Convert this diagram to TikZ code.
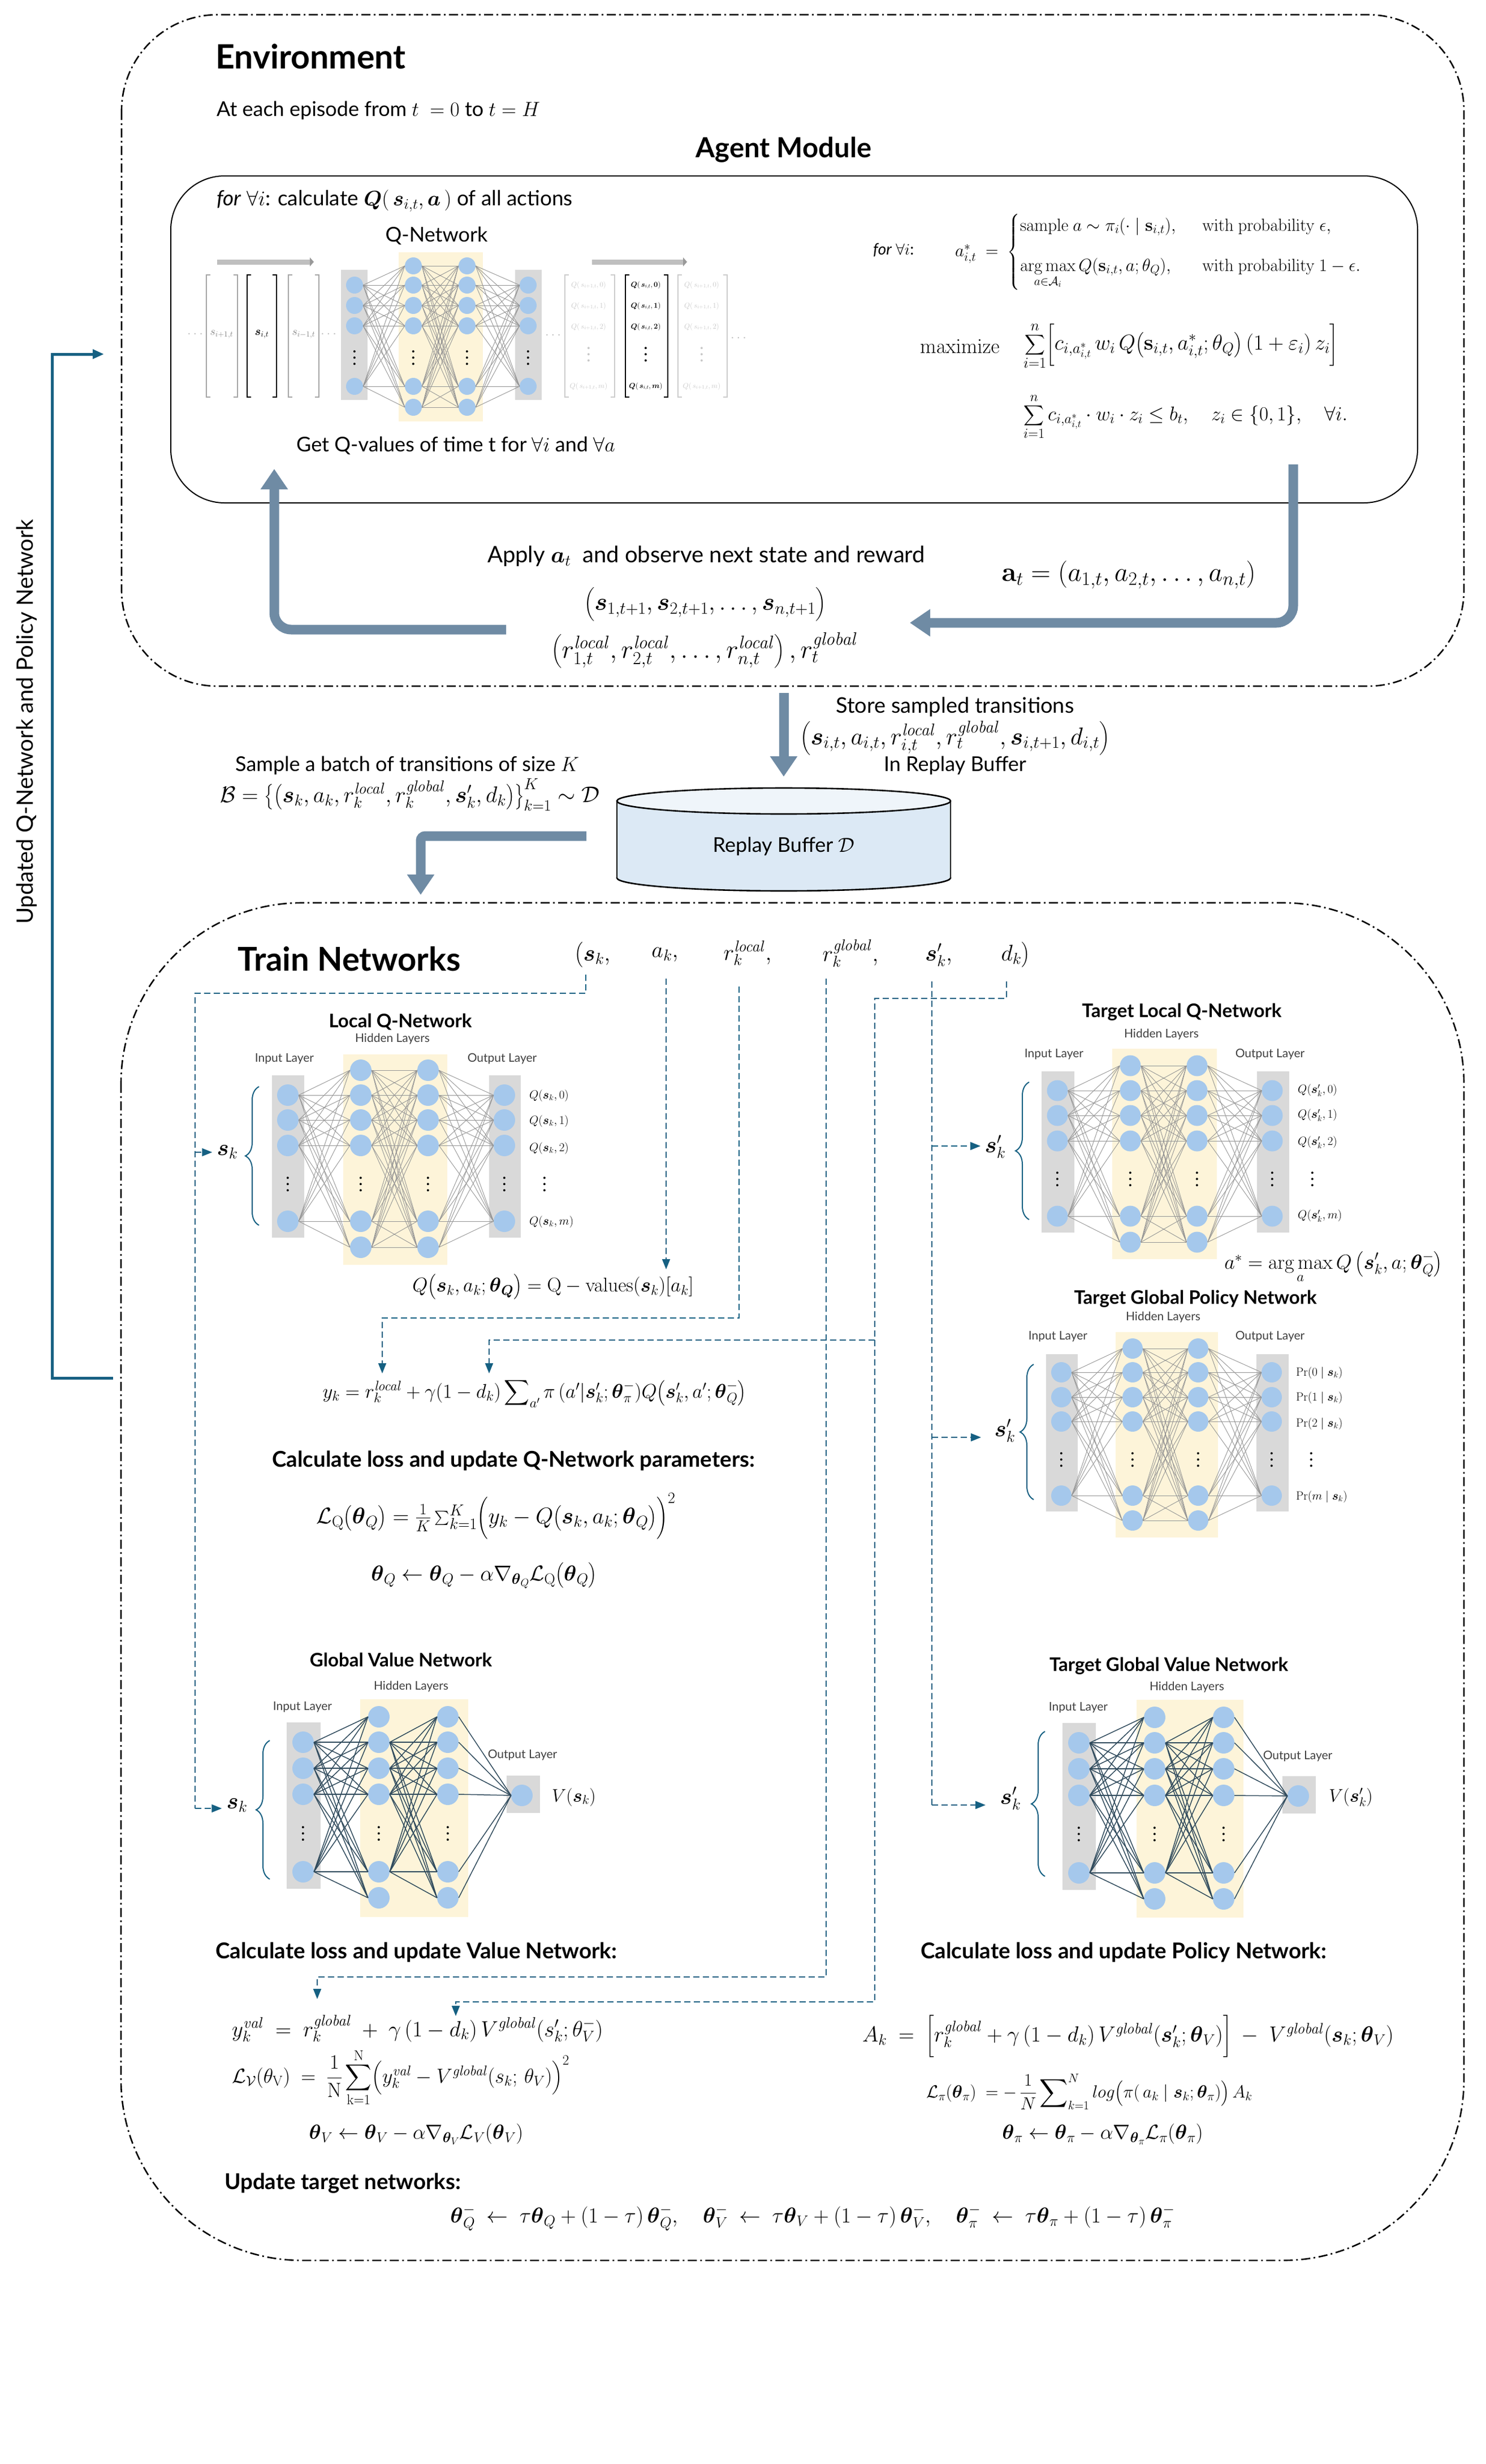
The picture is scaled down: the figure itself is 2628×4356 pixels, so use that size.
\RequirePackage{fix-cm}
\documentclass[tikz,border=0pt]{standalone}
\usepackage{amsmath}
\usepackage{exscale}
\usepackage[no-math]{fontspec}
\setmainfont{Lato}
\usetikzlibrary{arrows.meta,decorations.pathreplacing}

\definecolor{nodeblue}{HTML}{A5C8EC}
\definecolor{hiddenyellow}{HTML}{FDF4D9}
\definecolor{layergray}{HTML}{D9D9D9}
\definecolor{flowblue}{HTML}{6F8BA4}
\definecolor{feedblue}{HTML}{156082}
\definecolor{wiredark}{HTML}{2F4A5C}
\definecolor{bufferblue}{HTML}{DCE9F5}

\newcommand{\fsz}[1]{\fontsize{#1}{#1}\selectfont}
\newcommand{\bv}[1]{\boldsymbol{#1}}
\newcommand{\mloc}{\mathit{local}}
\newcommand{\mglob}{\mathit{global}}
\newcommand{\threedots}{\vbox{\baselineskip=11pt\lineskiplimit=0pt\hbox{.}\hbox{.}\hbox{.}}}
\newcommand{\lsum}[1]{\mathop{\vcenter{\hbox{\scalebox{#1}{$\displaystyle\sum$}}}}}

% name, x of input/hidden/hidden, y rows and dots, diameter, boxes, wire style, rows wired between hidden layers
\newcommand{\nnet}[7]{
\foreach \ci/\ca/\cb in {#2}{
\foreach \ya/\yb/\yc/\yd/\ye/\yf/\yv in {#3}{
\foreach \bxa/\bxb/\bya/\byb/\gxa/\gxb/\gya/\gyb in {#5}{
\fill [hiddenyellow] (\bxa,\bya) rectangle (\bxb,\byb);
\fill [layergray] (\gxa,\gya) rectangle (\gxb,\gyb);
\foreach \p/\q in {1/\ya,2/\yb,3/\yc,4/\yd,5/\ye,6/\yf}{
\node [neuron,minimum size=#4] (#1-a-\p) at (\ca,\q) {};
\node [neuron,minimum size=#4] (#1-b-\p) at (\cb,\q) {};
}
\foreach \p/\q in {2/\yb,3/\yc,4/\yd,5/\ye}
\node [neuron,minimum size=#4] (#1-i-\p) at (\ci,\q) {};
\foreach \p in {2,...,5}
\foreach \q in {1,...,6}
\draw [#6] (#1-i-\p.east) -- (#1-a-\q.west);
\foreach \p in {#7}
\foreach \q in {1,...,6}
\draw [#6] (#1-a-\p.east) -- (#1-b-\q.west);
\node [vdot] (#1-di) at (\ci,\yv) {\threedots};
\node [vdot] (#1-da) at (\ca,\yv) {\threedots};
\node [vdot] (#1-db) at (\cb,\yv) {\threedots};
}}}
}
% name, x, y rows and dots, diameter, gray box
\newcommand{\qout}[5]{
\foreach \gxa/\gxb/\gya/\gyb in {#5}
\fill [layergray] (\gxa,\gya) rectangle (\gxb,\gyb);
\foreach \yb/\yc/\yd/\ye/\yv in {#3}{
\foreach \p/\q in {2/\yb,3/\yc,4/\yd,5/\ye}
\node [neuron,minimum size=#4] (#1-o-\p) at (#2,\q) {};
\node [vdot] (#1-do) at (#2,\yv) {\threedots};
}
\foreach \p in {1,...,6}
\foreach \q in {2,...,5}
\draw [wire] (#1-b-\p.east) -- (#1-o-\q.west);
}

\begin{document}
\begin{tikzpicture}[x=1pt,y=-1pt]
\tikzstyle{every node}+=[inner sep=0pt]
\tikzstyle{neuron}=[circle,fill=nodeblue]
\tikzstyle{wire}=[draw=black!42,line width=0.9pt]
\tikzstyle{darkwire}=[draw=wiredark,line width=1.5pt]
\tikzstyle{vdot}=[font=\fsz{26}\bfseries]
\tikzstyle{framebox}=[draw=black,line width=2.6pt,dash pattern=on 16pt off 6pt on 3pt off 6pt]
\tikzstyle{bigflow}=[draw=flowblue,line width=17pt,rounded corners=30pt,-{Triangle[length=36pt,width=46pt]}]
\tikzstyle{feed}=[draw=feedblue,line width=1.8pt,dash pattern=on 11pt off 6pt]
\tikzstyle{feedtip}=[draw=feedblue,line width=1.8pt,dash pattern=on 11pt off 6pt,-{Triangle[length=18pt,width=14pt]}]
\tikzstyle{curly}=[draw=feedblue,line width=2pt,decorate,decoration={brace,amplitude=24pt}]
\tikzstyle{body}=[font=\fsz{36}]
\tikzstyle{head}=[font=\fsz{38.5}\bfseries]
\tikzstyle{nettitle}=[font=\fsz{33}\bfseries]
\tikzstyle{layername}=[font=\fsz{21},text=black!75]
\tikzstyle{qval}=[font=\fsz{21},anchor=west]
\tikzstyle{smallq}=[font=\fsz{13}]
\useasboundingbox (0,0) rectangle (2628,4356);

\draw [framebox,rounded corners=170pt] (215,26) rectangle (2589,1213);
\draw [black,line width=2pt,rounded corners=95pt] (302,311) rectangle (2507,889);
\draw [framebox,rounded corners=320pt] (214,1596) rectangle (2589,3996);

\node [font=\fsz{59}\bfseries,anchor=west] (envtitle) at (381,100) {Environment};
\node [body,anchor=west] (episode) at (383,195) {At each episode from $t\ =0$ to $t=H$};
\node [font=\fsz{49}\bfseries] (agenttitle) at (1386,265) {Agent Module};
\node [font=\fsz{37},anchor=west] (forall) at (383,355) {\textit{for} $\forall i$: calculate $\bv{Q}(\,\bv{s}_{i,t},\bv{a}\,)$ of all actions};
\node [body] (qnettitle) at (772,417) {Q-Network};
\node [body] (getq) at (806,788) {Get Q-values of time t for $\forall i$ and $\forall a$};

\nnet{env}{627/731/826}{470/504/540/576/683/720/633}{30pt}{705/854/446/745/603/650/477/707}{wire}{1,...,6}
\qout{env}{934}{504/540/576/683/633}{30pt}{911/958/477/707}

\shade [left color=black!25,middle color=black,right color=black!25] (384,459) rectangle (548,467);
\fill [black!40] (548,455) -- (555,463) -- (548,471) -- cycle;
\shade [left color=black!25,middle color=black,right color=black!25] (1047,459) rectangle (1208,467);
\fill [black!40] (1208,455) -- (1215,463) -- (1208,471) -- cycle;

\foreach \xa/\xb/\shadecol/\lw in {365/420/black!35/1.5,437/489/black/2.5,510/564/black!35/1.5,999/1087/black!20/1.5,1106/1181/black/2.5,1199/1286/black!20/1.5}{
\draw [\shadecol,line width=\lw pt] (\xa+7,486) -- (\xa,486) -- (\xa,702) -- (\xa+7,702);
\draw [\shadecol,line width=\lw pt] (\xb-7,486) -- (\xb,486) -- (\xb,702) -- (\xb-7,702);
}
\node [font=\fsz{20},text=black!50] (vecl) at (392,591) {$s_{i+1,t}$};
\node [font=\fsz{20}] (vecm) at (463,591) {$\bv{s}_{i,t}$};
\node [font=\fsz{20},text=black!50] (vecr) at (537,591) {$s_{i-1,t}$};
\node [font=\fsz{24},text=black!25] (dotsa) at (347,591) {$\cdots$};
\node [font=\fsz{24},text=black!25] (dotsb) at (583,591) {$\cdots$};
\node [font=\fsz{24},text=black!25] (dotsc) at (980,593) {$\cdots$};
\node [font=\fsz{24},text=black!25] (dotsd) at (1308,598) {$\cdots$};
\foreach \n/\y/\e in {a/504/0,b/541/1,c/578/2,d/683/m}{
\node [smallq,text=black!22] (ql\n) at (1041,\y) {$Q(\,s_{i+1,t},\e)$};
\node [smallq] (qm\n) at (1142,\y) {$\bv{Q}(\,\bv{s}_{i,t},\bv{\e})$};
\node [smallq,text=black!22] (qr\n) at (1241,\y) {$Q(\,s_{i+1,t},\e)$};
}
\node [vdot,text=black!22] (qld) at (1041,627) {\threedots};
\node [vdot] (qmd) at (1142,627) {\threedots};
\node [vdot,text=black!22] (qrd) at (1241,627) {\threedots};

\node [anchor=west,font=\fsz{28}] (foralli) at (1544,442) {\textit{for} $\forall i$:};
\node [font=\fsz{31},anchor=west] (astar) at (1689,446) {$a^*_{i,t}\ =\ \begin{cases}\mathrm{sample}\ a\sim\pi_i(\cdot\mid\mathbf{s}_{i,t}), & \ \ \mathrm{with\ probability}\ \epsilon,\\[34pt] \operatorname*{arg\,max}\limits_{a\in\mathcal{A}_i} Q(\mathbf{s}_{i,t},a;\theta_Q), & \ \ \mathrm{with\ probability}\ 1-\epsilon.\end{cases}$};
\node [font=\fsz{37},anchor=west] (maxi) at (1627,612) {$\mathrm{maximize}$};
\node [font=\fsz{38},anchor=west] (objective) at (1810,612) {$\displaystyle\sum_{i=1}^n\Bigl[c_{i,a^*_{i,t}}\,w_i\,Q\bigl(\mathbf{s}_{i,t},a^*_{i,t};\theta_Q\bigr)\,(1+\varepsilon_i)\,z_i\Bigr]$};
\node [font=\fsz{35},anchor=west] (limit) at (1810,737) {$\displaystyle\sum_{i=1}^n c_{i,a^*_{i,t}}\cdot w_i\cdot z_i\le b_t,\quad z_i\in\{0,1\},\quad\forall i.$};

\node [font=\fsz{40}] (apply) at (1249,983) {Apply $\bv{a}_t$\ \ and observe next state and reward};
\node [font=\fsz{48}] (atvec) at (1996,1016) {$\mathbf{a}_t=(a_{1,t},a_{2,t},\dots,a_{n,t})$};
\node [font=\fsz{43}] (nextstate) at (1247,1068) {$\bigl(\bv{s}_{1,t+1},\bv{s}_{2,t+1},\dots,\bv{s}_{n,t+1}\bigr)$};
\node [font=\fsz{46}] (rewards) at (1246,1150) {$\bigl(r_{1,t}^{\mloc},r_{2,t}^{\mloc},\dots,r_{n,t}^{\mloc}\bigr)\,,r_t^{\mglob}$};

\coordinate (actfrom) at (2287,821);
\coordinate (actcorner) at (2287,1101);
\coordinate (actto) at (1609,1101);
\draw [bigflow] (actfrom) -- (actcorner) -- (actto);
\coordinate (obsfrom) at (895,1113);
\coordinate (obscorner) at (485,1113);
\coordinate (obsto) at (485,829);
\draw [bigflow] (obsfrom) -- (obscorner) -- (obsto);

\node [font=\fsz{38}] (store) at (1689,1250) {Store sampled transitions};
\node [font=\fsz{43}] (storemath) at (1689,1305) {$\bigl(\bv{s}_{i,t},a_{i,t},r_{i,t}^{\mloc},r_t^{\mglob},\bv{s}_{i,t+1},d_{i,t}\bigr)$};
\node [body] (inbuffer) at (1689,1353) {In Replay Buffer};
\node [body,anchor=west] (sampletxt) at (416,1353) {Sample a batch of transitions of size $K$};
\node [font=\fsz{40}] (batch) at (725,1405) {$\mathcal{B}=\bigl\{\bigl(\bv{s}_k,a_k,r_k^{\mloc},r_k^{\mglob},\bv{s}'_k,d_k\bigr)\bigr\}_{k=1}^K\sim\mathcal{D}$};

\draw [black,line width=2.6pt,fill=bufferblue] (1386,1552) ellipse [x radius=295pt,y radius=23pt];
\fill [bufferblue] (1091,1416) rectangle (1681,1552);
\draw [black,line width=2.6pt] (1091,1416) -- (1091,1552);
\draw [black,line width=2.6pt] (1681,1416) -- (1681,1552);
\draw [black,line width=2.6pt,fill=bufferblue!45] (1386,1416) ellipse [x radius=295pt,y radius=23pt];
\node [body] (buffer) at (1386,1496) {Replay Buffer $\mathcal{D}$};

\coordinate (storefrom) at (1386,1225);
\coordinate (storeto) at (1386,1373);
\draw [bigflow] (storefrom) -- (storeto);
\coordinate (samplefrom) at (1037,1478);
\coordinate (samplecorner) at (744,1478);
\coordinate (sampleto) at (744,1582);
\draw [bigflow,rounded corners=8pt] (samplefrom) -- (samplecorner) -- (sampleto);

\node [font=\fsz{58}\bfseries,anchor=west] (traintitle) at (420,1695) {Train Networks};
\node [font=\fsz{40}] (tks) at (1048,1688) {$\bigl(\bv{s}_k,$};
\node [font=\fsz{40}] (tka) at (1176,1688) {$a_k,$};
\node [font=\fsz{40}] (tkl) at (1322,1685) {$r_k^{\mloc},$};
\node [font=\fsz{40}] (tkg) at (1504,1685) {$r_k^{\mglob},$};
\node [font=\fsz{40}] (tkn) at (1660,1688) {$\bv{s}'_k,$};
\node [font=\fsz{40}] (tkd) at (1796,1688) {$d_k\bigr)$};

\node [nettitle] (lqtitle) at (708,1807) {Local Q-Network};
\node [layername] (lqhid) at (694,1837) {Hidden Layers};
\node [layername] (lqin) at (503,1872) {Input Layer};
\node [layername] (lqoutl) at (888,1872) {Output Layer};
\nnet{lq}{509/638/757}{1892/1936/1980/2025/2159/2205/2094}{38pt}{607/791/1864/2236/481/538/1901/2188}{wire}{1,...,6}
\qout{lq}{892}{1936/1980/2025/2159/2094}{38pt}{865/921/1901/2188}
\node [qval] (lq0) at (936,1937) {$Q(\bv{s}_k,0)$};
\node [qval] (lq1) at (936,1982) {$Q(\bv{s}_k,1)$};
\node [qval] (lq2) at (936,2030) {$Q(\bv{s}_k,2)$};
\node [vdot] (lqv) at (963,2094) {\threedots};
\node [qval] (lqm) at (936,2160) {$Q(\bv{s}_k,m)$};
\coordinate (lqbb) at (458,2166);
\coordinate (lqbt) at (458,1921);
\draw [curly] (lqbb) -- (lqbt);
\node [font=\fsz{40}] (lqsk) at (402,2037) {$\bv{s}_k$};

\node [nettitle] (tqtitle) at (2090,1789) {Target Local Q-Network};
\node [layername] (tqhid) at (2054,1829) {Hidden Layers};
\node [layername] (tqin) at (1864,1864) {Input Layer};
\node [layername] (tqoutl) at (2246,1864) {Output Layer};
\nnet{tq}{1870/1999/2117}{1884/1928/1972/2017/2150/2196/2085}{37pt}{1967/2152/1854/2226/1842/1900/1894/2179}{wire}{1,...,6}
\qout{tq}{2250}{1928/1972/2017/2150/2085}{37pt}{2223/2280/1894/2179}
\node [qval] (tq0) at (2295,1928) {$Q(\bv{s}'_k,0)$};
\node [qval] (tq1) at (2295,1972) {$Q(\bv{s}'_k,1)$};
\node [qval] (tq2) at (2295,2020) {$Q(\bv{s}'_k,2)$};
\node [vdot] (tqv) at (2321,2085) {\threedots};
\node [qval] (tqm) at (2295,2150) {$Q(\bv{s}'_k,m)$};
\coordinate (tqbb) at (1820,2156);
\coordinate (tqbt) at (1820,1913);
\draw [curly] (tqbb) -- (tqbt);
\node [font=\fsz{40}] (tqsk) at (1760,2027) {$\bv{s}'_k$};
\node [font=\fsz{36}] (astarq) at (2358,2240) {$a^*=\displaystyle\operatorname*{arg\,max}_a Q\,\bigl(\bv{s}'_k,a;\bv{\theta}_Q^-\bigr)$};

\node [nettitle] (tptitle) at (2114,2296) {Target Global Policy Network};
\node [layername] (tphid) at (2057,2329) {Hidden Layers};
\node [layername] (tpin) at (1871,2363) {Input Layer};
\node [layername] (tpoutl) at (2246,2363) {Output Layer};
\nnet{tp}{1877/2003/2119}{2384/2426/2470/2513/2644/2688/2581}{36pt}{1973/2154/2355/2718/1850/1906/2394/2672}{wire}{1,...,6}
\qout{tp}{2249}{2426/2470/2513/2644/2581}{36pt}{2222/2279/2394/2672}
\node [qval] (tp0) at (2292,2427) {$\mathrm{Pr}(0\mid\bv{s}_k)$};
\node [qval] (tp1) at (2292,2471) {$\mathrm{Pr}(1\mid\bv{s}_k)$};
\node [qval] (tp2) at (2292,2517) {$\mathrm{Pr}(2\mid\bv{s}_k)$};
\node [vdot] (tpv) at (2319,2581) {\threedots};
\node [qval] (tpm) at (2292,2646) {$\mathrm{Pr}(m\mid\bv{s}_k)$};
\coordinate (tpbb) at (1828,2651);
\coordinate (tpbt) at (1828,2412);
\draw [curly] (tpbb) -- (tpbt);
\node [font=\fsz{40}] (tpsk) at (1777,2529) {$\bv{s}'_k$};

\node [font=\fsz{35}] (qsa) at (978,2275) {$Q\bigl(\bv{s}_k,a_k;\bv{\theta}_{\bv{Q}}\bigr)=\mathrm{Q}-\mathrm{values}(\bv{s}_k)[a_k]$};
\node [font=\fsz{35}] (ytarget) at (945,2463) {$y_k=r_k^{\mloc}+\gamma(1-d_k)\lsum{1.25}\nolimits_{a'}\pi\,(a'|\bv{s}'_k;\bv{\theta}_\pi^-)Q\bigl(\bv{s}'_k,a';\bv{\theta}_Q^-\bigr)$};
\node [head] (qlosshead) at (908,2582) {Calculate loss and update Q-Network parameters:};
\node [font=\fsz{40}] (qloss) at (877,2680) {$\mathcal{L}_{\mathrm{Q}}\bigl(\bv{\theta}_Q\bigr)=\frac{1}{K}\sum_{k=1}^K\Bigl(y_k-Q\bigl(\bv{s}_k,a_k;\bv{\theta}_Q\bigr)\Bigr)^2$};
\node [font=\fsz{38}] (qupd) at (856,2785) {$\bv{\theta}_Q\leftarrow\bv{\theta}_Q-\alpha\nabla_{\bv{\theta}_Q}\mathcal{L}_{\mathrm{Q}}\bigl(\bv{\theta}_Q\bigr)$};

\node [nettitle] (gvtitle) at (709,2934) {Global Value Network};
\node [layername] (gvhid) at (727,2982) {Hidden Layers};
\node [layername] (gvin) at (535,3018) {Input Layer};
\node [layername] (gvoutl) at (924,3103) {Output Layer};
\nnet{gv}{536/670/792}{3035/3080/3126/3172/3309/3355/3242}{38pt}{637/828/3004/3389/507/567/3045/3339}{darkwire}{2,...,5}
\fill [layergray] (896,3139) rectangle (955,3205);
\node [neuron,minimum size=38pt] (gv-o) at (923,3174) {};
\foreach \p in {1,...,6}
\draw [darkwire] (gv-b-\p.east) -- (gv-o.west);
\node [font=\fsz{32}] (gvv) at (1015,3177) {$V(\bv{s}_k)$};
\coordinate (gvbb) at (477,3322);
\coordinate (gvbt) at (477,3077);
\draw [curly] (gvbb) -- (gvbt);
\node [font=\fsz{40}] (gvsk) at (419,3192) {$\bv{s}_k$};

\node [nettitle] (tvtitle) at (2067,2945) {Target Global Value Network};
\node [layername] (tvhid) at (2099,2983) {Hidden Layers};
\node [layername] (tvin) at (1907,3019) {Input Layer};
\node [layername] (tvoutl) at (2295,3105) {Output Layer};
\nnet{tv}{1908/2042/2164}{3036/3081/3127/3174/3311/3357/3243}{38pt}{2010/2199/3005/3390/1879/1938/3046/3341}{darkwire}{2,...,5}
\fill [layergray] (2268,3140) rectangle (2327,3206);
\node [neuron,minimum size=38pt] (tv-o) at (2296,3175) {};
\foreach \p in {1,...,6}
\draw [darkwire] (tv-b-\p.east) -- (tv-o.west);
\node [font=\fsz{32}] (tvv) at (2389,3177) {$V(\bv{s}'_k)$};
\coordinate (tvbb) at (1848,3317);
\coordinate (tvbt) at (1848,3061);
\draw [curly] (tvbb) -- (tvbt);
\node [font=\fsz{40}] (tvsk) at (1787,3179) {$\bv{s}'_k$};

\node [head,anchor=west] (vlosshead) at (381,3451) {Calculate loss and update Value Network:};
\node [head,anchor=west] (plosshead) at (1628,3451) {Calculate loss and update Policy Network:};
\node [font=\fsz{39},anchor=west] (yval) at (410,3586) {$y_k^{\mathit{val}}\ =\ r_k^{\mglob}\ +\ \gamma\,(1-d_k)\,V^{\mglob}(s'_k;\theta_V^-)$};
\node [font=\fsz{36},anchor=west] (vloss) at (410,3673) {$\mathcal{L}_{\mathcal{V}}(\theta_{\mathrm{V}})\ =\ \dfrac{1}{\mathrm{N}}\lsum{1.3}\limits_{\mathrm{k}=1}^{\mathrm{N}}\Bigl(y_k^{\mathit{val}}-V^{\mglob}(s_k;\,\theta_V)\Bigr)^2$};
\node [font=\fsz{36}] (vupd) at (736,3773) {$\bv{\theta}_V\leftarrow\bv{\theta}_V-\alpha\nabla_{\bv{\theta}_V}\mathcal{L}_V(\bv{\theta}_V)$};
\node [font=\fsz{38.5},anchor=west] (adv) at (1525,3600) {$A_k\ =\ \Bigl[r_k^{\mglob}+\gamma\,(1-d_k)\,V^{\mglob}(\bv{s}'_k;\bv{\theta}_V)\Bigr]\ -\ V^{\mglob}(\bv{s}_k;\bv{\theta}_V)$};
\node [font=\fsz{31},anchor=west] (ploss) at (1638,3698) {$\mathcal{L}_\pi(\bv{\theta}_\pi)\ =-\,\dfrac{1}{N}\lsum{1.4}\nolimits_{k=1}^N log\bigl(\pi(\,a_k\mid\bv{s}_k;\bv{\theta}_\pi)\bigr)\,A_k$};
\node [font=\fsz{36}] (pupd) at (1950,3773) {$\bv{\theta}_\pi\leftarrow\bv{\theta}_\pi-\alpha\nabla_{\bv{\theta}_\pi}\mathcal{L}_\pi(\bv{\theta}_\pi)$};
\node [head,anchor=west] (updhead) at (397,3860) {Update target networks:};
\node [font=\fsz{38}] (softupd) at (1437,3921) {$\bv{\theta}_Q^-\ \leftarrow\ \tau\bv{\theta}_Q+(1-\tau)\,\bv{\theta}_Q^-,\quad\bv{\theta}_V^-\ \leftarrow\ \tau\bv{\theta}_V+(1-\tau)\,\bv{\theta}_V^-,\quad\bv{\theta}_\pi^-\ \leftarrow\ \tau\bv{\theta}_\pi+(1-\tau)\,\bv{\theta}_\pi^-$};

\coordinate (sktap) at (1036,1723);
\coordinate (skcorner) at (345,1756);
\coordinate (skdown) at (345,3197);
\draw [feed] (sktap) |- (skcorner) -- (skdown);
\coordinate (skbranch) at (345,2037);
\draw [feedtip,shorten >=8pt] (skbranch) -- (lqsk.west);
\draw [feedtip,shorten >=8pt] (skdown) -- (gvsk.west |- skdown);

\coordinate (aktap) at (1178,1730);
\coordinate (akto) at (1178,2244);
\draw [feedtip] (aktap) -- (akto);

\coordinate (rltap) at (1307,1744);
\coordinate (rlturn) at (1307,2330);
\coordinate (rlto) at (676,2428);
\draw [feedtip] (rltap) -- (rlturn) -| (rlto);

\coordinate (rgtap) at (1461,1730);
\coordinate (rgturn) at (1461,3495);
\coordinate (rgto) at (561,3534);
\draw [feedtip] (rgtap) -- (rgturn) -| (rgto);

\coordinate (dktap) at (1780,1735);
\coordinate (dkcorner) at (1547,1765);
\coordinate (dkturn) at (1547,3539);
\coordinate (dkto) at (806,3564);
\draw [feedtip] (dktap) |- (dkcorner) -- (dkturn) -| (dkto);
\coordinate (dkbranch) at (1547,2369);
\coordinate (dkbto) at (865,2428);
\draw [feedtip] (dkbranch) -| (dkbto);

\coordinate (sntap) at (1648,1735);
\coordinate (sndown) at (1648,3191);
\draw [feed] (sntap) -- (sndown);
\coordinate (snbranch) at (1648,2026);
\coordinate (snbto) at (1734,2026);
\draw [feedtip] (snbranch) -- (snbto);
\coordinate (snpolicy) at (1648,2541);
\coordinate (snpto) at (1735,2541);
\draw [feedtip] (snpolicy) -- (snpto);
\coordinate (snvto) at (1743,3191);
\draw [feedtip] (sndown) -- (snvto);

\coordinate (updfrom) at (200,2436);
\coordinate (updlow) at (92,2436);
\coordinate (updhigh) at (92,626);
\coordinate (updto) at (184,626);
\draw [feedblue,line width=5pt,-{Triangle[length=20pt,width=16pt]}] (updfrom) -- (updlow) -- (updhigh) -- (updto);
\node [rotate=90,font=\fsz{40}] (updlabel) at (47,1276) {Updated Q-Network and Policy Network};
\end{tikzpicture}
\end{document}
